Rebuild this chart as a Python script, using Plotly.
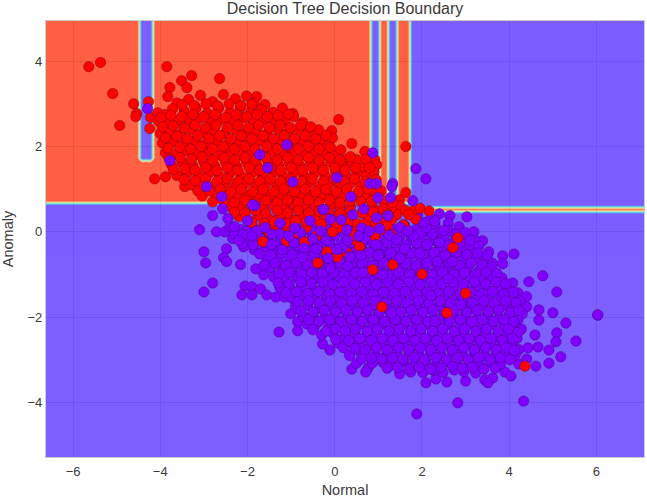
import numpy as np
import plotly.graph_objects as go

# axis limits
x_limits = [-6.62, 7.09]
y_limits = [-5.28, 4.94]
x_ticks = [-6, -4, -2, 0, 2, 4, 6]
y_ticks = [-4, -2, 0, 2, 4]

# regions the tree calls Anomaly: x from, x to, y from, y to
red_regions = [
    (-6.7, -4.47, 0.66, 5.2),
    (-4.47, -4.17, 0.66, 1.67),
    (-4.17, 0.8, 0.66, 5.2),
    (1.05, 1.2, 0.66, 5.2),
    (1.45, 1.75, 0.66, 5.2),
    (1.6, 7.3, 0.48, 0.56),
]
mesh_step = 0.1

purple_points = [
    (-2.8, .38), (-3.1, .05), (-3.0, -.47), (-2.96, -.73), (-2.8, -1.2), (-3.0, -1.41), (-2.71, 0), (-2.52, 0),
    (-2.34, -.16), (-2.48, -.4), (-2.55, -.61), (-2.48, -.7), (-2.16, -.77), (-2.09, -.35), (-1.81, -.87),
    (-1.63, -1.01), (-2.06, -1.27), (-1.9, -1.29), (-1.7, -1.34), (-2.13, -1.48), (-1.9, -1.48), (-1.56, -1.48),
    (-1.35, -1.53), (-1.15, -1.53), (-1.28, -2.35), (-1.01, -1.92), (-.85, -2.11), (-.64, -2.16), (-.85, -2.32),
    (-.28, -2.63), (.07, -2.61), (.41, -2.61), (-.11, -2.77), (.76, -3.2),
    (2.64, .38), (3.03, .35), (3.19, 0), (3.39, -.21), (3.53, -.47), (3.85, -.56), (4.11, -.52), (3.85, -.75),
    (3.83, -1.08), (4.08, -1.2), (4.45, -1.17), (4.77, -1.03), (5.09, -1.41), (4.2, -1.43), (4.4, -1.52),
    (4.4, -1.76), (4.68, -1.83), (5.0, -1.9), (4.68, -2.07), (5.3, -2.14), (6.03, -1.95), (5.09, -2.37),
    (5.53, -2.56), (5.07, -2.58), (4.91, -2.77), (5.18, -2.93), (4.91, -3.08), (4.66, -2.7), (4.59, -2.42),
    (4.43, -2.72), (4.4, -2.98), (4.61, -3.15), (4.22, -3.1), (3.9, -3.29), (4.04, -3.38), (3.62, -3.43),
    (3.44, -3.47), (3.51, -3.54), (3.23, -3.31), (3.0, -3.5), (2.57, -3.52), (2.32, -3.45), (2.09, -3.54),
    (2.82, -4.01), (4.33, -3.97), (1.88, -4.27), (1.49, -3.33), (1.74, -3.29), (.71, -3.29), (.39, -3.22),
    (.5, -3.08), (1.86, 1.48), (2.09, 1.24), (6.03, -1.95),
    (1.9, .42), (2.2, .3), (2.4, .42), (2.0, .18), (2.3, .15), (2.6, .2), (2.85, .12),
    (-2.4, .12), (-2.15, .05), (-1.9, .15), (-1.65, .05), (-1.4, .14), (-1.15, .04), (-.9, .14), (-.65, .05),
    (-.4, .14), (-.15, .05), (.1, .15), (.35, .05), (.6, .14), (.85, .05), (1.1, .15), (1.35, .05), (1.6, .14),
    (1.85, .05), (2.12, .02), (2.36, -.03), (2.62, .02), (2.9, -.04),
    (-2.24, -.16), (-2.0, -.12), (-1.75, -.2), (-1.5, -.1), (-1.25, -.2), (-1.0, -.1), (-.75, -.2), (-.5, -.1),
    (-.25, -.2), (0, -.1), (.25, -.2), (.5, -.1), (.75, -.2), (1.0, -.1), (1.25, -.2), (1.5, -.1), (1.75, -.2),
    (2.0, -.12), (2.25, -.2), (2.5, -.14), (2.75, -.2), (3.0, -.12), (3.22, -.2),
    (-1.85, -.42), (-1.6, -.36), (-1.35, -.44), (-1.1, -.36), (-.85, -.45), (-.6, -.36), (-.35, -.44),
    (-.1, -.36), (.15, -.45), (.4, -.36), (.65, -.44), (.9, -.36), (1.15, -.45), (1.4, -.36), (1.65, -.44),
    (1.9, -.36), (2.15, -.45), (2.4, -.36), (2.65, -.44), (2.9, -.36), (3.15, -.45),
    (-1.55, -.62), (-1.3, -.68), (-1.05, -.6), (-.8, -.68), (-.55, -.6), (-.3, -.68), (-.05, -.6), (.2, -.68),
    (.45, -.6), (.7, -.68), (.95, -.6), (1.2, -.68), (1.45, -.6), (1.7, -.68), (1.95, -.6), (2.2, -.68),
    (2.45, -.6), (2.7, -.68), (2.95, -.6), (3.2, -.66), (3.45, -.62), (3.62, -.74),
    (-1.48, -.84), (-1.2, -.9), (-.95, -.82), (-.7, -.9), (-.45, -.84), (-.2, -.92), (.05, -.84), (.3, -.9),
    (.55, -.84), (.8, -.92), (1.05, -.84), (1.3, -.92), (1.55, -.84), (1.8, -.92), (2.05, -.84), (2.3, -.92),
    (2.55, -.84), (2.8, -.92), (3.05, -.84), (3.3, -.92), (3.55, -.86),
    (-1.4, -1.06), (-1.15, -1.12), (-.88, -1.05), (-.62, -1.13), (-.38, -1.06), (-.12, -1.14), (.12, -1.06),
    (.38, -1.13), (.62, -1.06), (.88, -1.14), (1.12, -1.06), (1.38, -1.13), (1.62, -1.06), (1.88, -1.14),
    (2.12, -1.06), (2.38, -1.13), (2.62, -1.06), (2.88, -1.14), (3.12, -1.06), (3.38, -1.13), (3.62, -1.06),
    (3.84, -1.28),
    (-1.26, -1.3), (-1.02, -1.35), (-.76, -1.28), (-.5, -1.36), (-.26, -1.28), (0, -1.36), (.24, -1.28),
    (.5, -1.36), (.74, -1.28), (1.0, -1.36), (1.24, -1.28), (1.5, -1.36), (1.74, -1.28), (2.0, -1.36),
    (2.24, -1.28), (2.5, -1.36), (2.74, -1.28), (3.0, -1.36), (3.24, -1.28), (3.5, -1.36), (3.74, -1.3),
    (3.98, -1.38),
    (-.98, -1.56), (-.72, -1.5), (-.46, -1.58), (-.2, -1.5), (.04, -1.58), (.3, -1.5), (.54, -1.58), (.8, -1.5),
    (1.04, -1.58), (1.3, -1.5), (1.54, -1.58), (1.8, -1.5), (2.04, -1.58), (2.3, -1.5), (2.54, -1.58),
    (2.8, -1.5), (3.04, -1.58), (3.3, -1.5), (3.54, -1.58), (3.8, -1.52), (4.04, -1.6), (4.24, -1.62),
    (-.9, -1.76), (-.62, -1.72), (-.36, -1.8), (-.1, -1.72), (.14, -1.8), (.4, -1.72), (.64, -1.8), (.9, -1.72),
    (1.14, -1.8), (1.4, -1.72), (1.64, -1.8), (1.9, -1.72), (2.14, -1.8), (2.4, -1.72), (2.64, -1.8),
    (2.9, -1.72), (3.14, -1.8), (3.4, -1.72), (3.64, -1.8), (3.9, -1.72), (4.14, -1.8), (4.3, -1.92),
    (-.72, -1.98), (-.5, -1.94), (-.24, -2.02), (0, -1.94), (.26, -2.02), (.5, -1.94), (.76, -2.02), (1.0, -1.94),
    (1.26, -2.02), (1.5, -1.94), (1.76, -2.02), (2.0, -1.94), (2.26, -2.02), (2.5, -1.94), (2.76, -2.02),
    (3.0, -1.94), (3.26, -2.02), (3.5, -1.94), (3.76, -2.02), (4.0, -1.96), (4.2, -2.06),
    (-.44, -2.18), (-.14, -2.24), (.1, -2.16), (.36, -2.24), (.6, -2.16), (.86, -2.24), (1.1, -2.16), (1.36, -2.24),
    (1.6, -2.16), (1.86, -2.24), (2.1, -2.16), (2.36, -2.24), (2.6, -2.16), (2.86, -2.24), (3.1, -2.16),
    (3.36, -2.24), (3.6, -2.16), (3.86, -2.24), (4.1, -2.18), (4.28, -2.28),
    (-.3, -2.42), (-.04, -2.38), (.22, -2.46), (.46, -2.38), (.72, -2.46), (.96, -2.38), (1.22, -2.46),
    (1.46, -2.38), (1.72, -2.46), (1.96, -2.38), (2.22, -2.46), (2.46, -2.38), (2.72, -2.46), (2.96, -2.38),
    (3.22, -2.46), (3.46, -2.38), (3.72, -2.46), (3.96, -2.4), (4.18, -2.5),
    (.2, -2.72), (.58, -2.6), (.82, -2.68), (1.08, -2.6), (1.32, -2.68), (1.58, -2.6), (1.82, -2.68), (2.08, -2.6),
    (2.32, -2.68), (2.58, -2.6), (2.82, -2.68), (3.08, -2.6), (3.32, -2.68), (3.58, -2.6), (3.82, -2.68),
    (4.06, -2.62), (4.22, -2.76),
    (.34, -2.9), (.6, -2.84), (.94, -2.9), (1.2, -2.82), (1.44, -2.9), (1.7, -2.82), (1.94, -2.9), (2.2, -2.82),
    (2.44, -2.9), (2.7, -2.82), (2.94, -2.9), (3.2, -2.82), (3.44, -2.9), (3.7, -2.84), (3.94, -2.92), (4.14, -2.88),
    (.86, -3.08), (1.1, -3.06), (1.32, -3.12), (1.58, -3.04), (1.82, -3.12), (2.08, -3.04), (2.32, -3.12),
    (2.58, -3.04), (2.82, -3.12), (3.08, -3.04), (3.32, -3.12), (3.58, -3.06), (3.8, -3.1),
    (2.02, -3.3), (2.26, -3.24), (2.48, -3.3), (2.74, -3.24), (2.96, -3.28),
]

# second pass over the purple cloud, the gaps between the points above
purple_fill = [
    (-2.3, -.04), (-2.03, .02), (-1.77, -.05), (-1.52, .01), (-1.27, -.03), (-1.0, .02), (-.78, -.06), (-.52, .01),
    (-.27, -.04), (-.01, .03), (.23, -.05), (.48, .01), (.74, -.03), (.98, .02), (1.23, -.06), (1.47, .01),
    (1.73, -.04), (1.98, -.01), (2.24, -.06), (2.5, .03), (2.76, -.06), (3.0, -.02),
    (-2.12, -.28), (-1.87, -.3), (-1.62, -.25), (-1.37, -.31), (-1.12, -.26), (-.87, -.32), (-.62, -.25),
    (-.37, -.3), (-.12, -.26), (.13, -.31), (.38, -.25), (.62, -.3), (.88, -.26), (1.12, -.31), (1.37, -.25),
    (1.63, -.31), (1.88, -.26), (2.12, -.3), (2.38, -.25), (2.62, -.31), (2.88, -.26), (3.1, -.31), (3.3, -.34),
    (-1.72, -.52), (-1.47, -.55), (-1.22, -.5), (-.97, -.54), (-.72, -.49), (-.47, -.55), (-.22, -.5), (.03, -.54),
    (.28, -.5), (.53, -.55), (.78, -.49), (1.03, -.54), (1.28, -.5), (1.53, -.55), (1.78, -.5), (2.03, -.54),
    (2.28, -.49), (2.53, -.55), (2.78, -.5), (3.03, -.54), (3.28, -.5), (3.5, -.55),
    (-1.62, -.78), (-1.37, -.74), (-1.12, -.79), (-.87, -.73), (-.62, -.78), (-.37, -.74), (-.12, -.79), (.12, -.73),
    (.38, -.78), (.63, -.74), (.87, -.79), (1.12, -.73), (1.38, -.78), (1.63, -.74), (1.87, -.79), (2.12, -.73),
    (2.38, -.78), (2.63, -.74), (2.87, -.79), (3.12, -.73), (3.38, -.78), (3.6, -.82),
    (-1.28, -.99), (-1.03, -.96), (-.77, -1.0), (-.53, -.95), (-.28, -1.0), (-.03, -.96), (.22, -1.0), (.47, -.95),
    (.72, -1.0), (.97, -.96), (1.22, -1.0), (1.47, -.95), (1.72, -1.0), (1.97, -.96), (2.22, -1.0), (2.47, -.95),
    (2.72, -1.0), (2.97, -.96), (3.22, -1.0), (3.47, -.95), (3.72, -.98),
    (-1.3, -1.2), (-1.04, -1.23), (-.78, -1.18), (-.53, -1.22), (-.28, -1.18), (-.04, -1.24), (.2, -1.18),
    (.46, -1.23), (.7, -1.18), (.96, -1.24), (1.2, -1.18), (1.46, -1.23), (1.7, -1.18), (1.96, -1.24),
    (2.2, -1.18), (2.46, -1.23), (2.7, -1.18), (2.96, -1.24), (3.2, -1.18), (3.46, -1.23), (3.7, -1.18), (3.92, -1.22),
    (-1.12, -1.43), (-.88, -1.4), (-.62, -1.45), (-.38, -1.4), (-.12, -1.46), (.12, -1.41), (.38, -1.45),
    (.62, -1.4), (.88, -1.46), (1.12, -1.41), (1.38, -1.45), (1.62, -1.4), (1.88, -1.46), (2.12, -1.41),
    (2.38, -1.45), (2.62, -1.4), (2.88, -1.46), (3.12, -1.41), (3.38, -1.45), (3.62, -1.4), (3.88, -1.46), (4.1, -1.42),
    (-.86, -1.64), (-.6, -1.62), (-.35, -1.67), (-.1, -1.62), (.16, -1.67), (.4, -1.62), (.66, -1.67), (.92, -1.62),
    (1.16, -1.67), (1.42, -1.62), (1.66, -1.67), (1.92, -1.62), (2.16, -1.67), (2.42, -1.62), (2.66, -1.67),
    (2.92, -1.62), (3.16, -1.67), (3.42, -1.62), (3.66, -1.67), (3.92, -1.62), (4.16, -1.67),
    (-.78, -1.86), (-.5, -1.88), (-.24, -1.84), (.02, -1.89), (.26, -1.84), (.52, -1.88), (.76, -1.84), (1.02, -1.89),
    (1.26, -1.84), (1.52, -1.88), (1.76, -1.84), (2.02, -1.89), (2.26, -1.84), (2.52, -1.88), (2.76, -1.84),
    (3.02, -1.89), (3.26, -1.84), (3.52, -1.88), (3.76, -1.84), (4.02, -1.89), (4.22, -1.84),
    (-.6, -2.06), (-.36, -2.1), (-.12, -2.06), (.14, -2.11), (.38, -2.06), (.64, -2.1), (.88, -2.06), (1.14, -2.11),
    (1.38, -2.06), (1.64, -2.1), (1.88, -2.06), (2.14, -2.11), (2.38, -2.06), (2.64, -2.1), (2.88, -2.06),
    (3.14, -2.11), (3.38, -2.06), (3.64, -2.1), (3.88, -2.06), (4.1, -2.11),
    (-.5, -2.3), (-.2, -2.33), (.02, -2.28), (.24, -2.33), (.48, -2.28), (.74, -2.33), (.98, -2.28), (1.24, -2.33),
    (1.48, -2.28), (1.74, -2.33), (1.98, -2.28), (2.24, -2.33), (2.48, -2.28), (2.74, -2.33), (2.98, -2.28),
    (3.24, -2.33), (3.48, -2.28), (3.74, -2.33), (3.98, -2.28), (4.2, -2.36),
    (.02, -2.52), (.32, -2.55), (.58, -2.5), (.84, -2.55), (1.08, -2.5), (1.34, -2.55), (1.58, -2.5), (1.84, -2.55),
    (2.08, -2.5), (2.34, -2.55), (2.58, -2.5), (2.84, -2.55), (3.08, -2.5), (3.34, -2.55), (3.58, -2.5),
    (3.84, -2.55), (4.08, -2.5),
    (.46, -2.74), (.7, -2.78), (.96, -2.72), (1.2, -2.77), (1.46, -2.72), (1.7, -2.77), (1.96, -2.72), (2.2, -2.77),
    (2.46, -2.72), (2.7, -2.77), (2.96, -2.72), (3.2, -2.77), (3.46, -2.72), (3.7, -2.77), (3.94, -2.72), (4.12, -2.78),
    (.62, -2.98), (.84, -2.96), (1.08, -2.98), (1.32, -2.95), (1.56, -3.0), (1.82, -2.95), (2.06, -3.0), (2.32, -2.95),
    (2.56, -3.0), (2.82, -2.95), (3.06, -3.0), (3.3, -2.95), (3.56, -3.0), (3.8, -2.95), (4.02, -3.0),
    (1.2, -3.2), (1.44, -3.18), (1.7, -3.22), (1.94, -3.18), (2.2, -3.22), (2.44, -3.18), (2.7, -3.16), (2.92, -3.2),
    (3.16, -3.18), (3.42, -3.22), (3.68, -3.2),
]

red_points = [
    (-5.64, 3.87), (-5.37, 3.97), (-5.09, 3.24), (-4.93, 2.49), (-4.61, 3.0), (-4.54, 2.77), (-4.56, 2.7),
    (-4.27, 3.05), (-4.22, 2.68), (-4.06, 2.79), (-4.24, 2.42), (-3.85, 3.87), (-3.28, 3.66), (-2.64, 3.59),
    (-3.51, 3.54), (-3.78, 3.38), (-3.39, 3.38), (-3.83, 3.17), (-4.13, 1.24), (-3.88, 1.29), (-3.44, 1.06),
    (-3.14, .96), (-1.79, 3.17), (.09, 2.63), (.39, 2.07), (1.63, 2.0), (-.96, 2.77), (-.73, 2.56),
    (-3.62, 3.02), (-3.35, 3.1), (-3.08, 3.2), (-2.8, 3.05), (-2.55, 3.22), (-2.28, 3.12), (-2.02, 3.18),
    (-1.85, 3.02), (-1.6, 2.98),
    (-3.9, 2.75), (-3.72, 2.88), (-3.45, 2.82), (-3.18, 2.9), (-2.92, 2.78), (-2.66, 2.9), (-2.4, 2.8),
    (-2.16, 2.92), (-1.92, 2.82), (-1.68, 2.86), (-1.42, 2.8), (-1.2, 2.9),
    (-4.05, 2.6), (-3.85, 2.52), (-3.6, 2.62), (-3.34, 2.56), (-3.1, 2.66), (-2.85, 2.55), (-2.6, 2.64),
    (-2.35, 2.56), (-2.1, 2.67), (-1.86, 2.58), (-1.62, 2.64), (-1.38, 2.56), (-1.14, 2.62), (-.94, 2.7),
    (-4.0, 2.3), (-3.78, 2.36), (-3.52, 2.3), (-3.28, 2.4), (-3.02, 2.32), (-2.78, 2.38), (-2.52, 2.3),
    (-2.28, 2.4), (-2.04, 2.32), (-1.8, 2.38), (-1.55, 2.3), (-1.3, 2.4), (-1.06, 2.33), (-.82, 2.4),
    (-.6, 2.35), (-.37, 2.39), (-.07, 2.37),
    (-3.95, 2.08), (-3.7, 2.12), (-3.45, 2.05), (-3.2, 2.14), (-2.96, 2.06), (-2.7, 2.14), (-2.46, 2.05),
    (-2.22, 2.13), (-1.98, 2.06), (-1.72, 2.14), (-1.48, 2.06), (-1.24, 2.14), (-1.0, 2.06), (-.76, 2.14),
    (-.52, 2.06), (-.28, 2.15), (-.05, 2.2), (-.16, 2.0),
    (-3.88, 1.85), (-3.62, 1.82), (-3.38, 1.9), (-3.12, 1.82), (-2.88, 1.88), (-2.62, 1.8), (-2.38, 1.88),
    (-2.14, 1.8), (-1.9, 1.88), (-1.64, 1.8), (-1.4, 1.88), (-1.16, 1.8), (-.92, 1.88), (-.68, 1.8),
    (-.44, 1.88), (-.2, 1.8), (.06, 1.8), (.28, 1.7),
    (-3.75, 1.58), (-3.5, 1.62), (-3.26, 1.55), (-3.0, 1.63), (-2.76, 1.55), (-2.5, 1.62), (-2.26, 1.54),
    (-2.02, 1.62), (-1.78, 1.55), (-1.52, 1.64), (-1.28, 1.55), (-1.04, 1.62), (-.8, 1.54), (-.56, 1.62),
    (-.32, 1.55), (-.08, 1.62), (.16, 1.54), (.4, 1.62), (.69, 1.88), (.92, 1.69), (.96, 1.57), (.5, 1.69), (.66, 1.5),
    (-3.62, 1.32), (-3.38, 1.38), (-3.12, 1.3), (-2.88, 1.38), (-2.64, 1.3), (-2.4, 1.38), (-2.14, 1.3),
    (-1.9, 1.38), (-1.66, 1.3), (-1.42, 1.38), (-1.18, 1.3), (-.94, 1.38), (-.7, 1.3), (-.46, 1.38),
    (-.22, 1.3), (.02, 1.4), (.26, 1.3), (.5, 1.38), (.72, 1.3), (.9, 1.4),
    (-3.3, 1.1), (-3.02, 1.12), (-2.78, 1.06), (-2.52, 1.14), (-2.28, 1.06), (-2.04, 1.14), (-1.8, 1.06),
    (-1.56, 1.14), (-1.32, 1.06), (-1.08, 1.14), (-.84, 1.06), (-.6, 1.14), (-.36, 1.06), (-.12, 1.14),
    (.12, 1.06), (.36, 1.14), (.6, 1.06), (.84, .96), (1.06, .96),
    (-3.04, .84), (-2.72, .8), (-2.44, .86), (-2.2, .8), (-1.96, .86), (-1.72, .8), (-1.48, .86), (-1.24, .8),
    (-1.0, .86), (-.76, .8), (-.52, .86), (-.28, .8), (-.04, .86), (.2, .8), (.5, .86), (.7, .8), (1.12, .72),
    (1.48, .75), (1.63, .92), (1.5, .6),
    (-2.4, .6), (-2.14, .55), (-1.9, .62), (-1.64, .55), (-1.4, .62), (-1.16, .55), (-.92, .62), (-.68, .55),
    (-.44, .6), (-.1, .62), (.12, .55), (.36, .6), (.6, .7), (.86, .6), (1.0, .48), (1.12, .54), (1.42, .4),
    (1.79, .49), (2.16, .49), (1.96, .55), (1.62, .5), (1.3, .55), (.75, .4),
    (-2.2, .36), (-2.0, .28), (-1.76, .38), (-1.5, .3), (-1.26, .38), (-1.02, .3), (-.78, .38), (-.45, .3),
    (-.2, .35), (.05, .28), (.2, .38), (.5, .2), (.78, .3), (1.06, .22), (1.3, .28), (1.58, .16), (1.85, .3),
    (-1.66, .08), (-1.38, .12), (-1.1, .14), (-.66, .1), (.1, .1), (.5, .02), (.82, .08), (1.15, .04),
    (-1.65, -.23), (-1.1, -.23), (-.69, -.23), (-.39, -.73), (-.18, -.47), (.05, -.59), (.28, -.49), (.41, -.19),
    (.57, -.35), (.87, -.89), (1.33, -.77), (2.57, -1.9), (2.82, -.14), (2.71, -.37), (1.58, .16),
    (3.0, -1.44), (2.0, -.99), (1.08, -1.76), (4.36, -3.15),
]

# second pass over the red cloud
red_fill = [
    (-3.5, 2.98), (-3.22, 2.96), (-2.95, 3.0), (-2.68, 2.95), (-2.42, 3.0), (-2.15, 2.96), (-1.9, 2.99),
    (-3.98, 2.68), (-3.76, 2.73), (-3.5, 2.7), (-3.26, 2.75), (-3.0, 2.7), (-2.74, 2.75), (-2.5, 2.68),
    (-2.26, 2.74), (-2.02, 2.7), (-1.78, 2.75), (-1.54, 2.7), (-1.3, 2.72), (-1.06, 2.76),
    (-3.95, 2.46), (-3.7, 2.48), (-3.45, 2.44), (-3.2, 2.5), (-2.96, 2.44), (-2.72, 2.5), (-2.46, 2.44),
    (-2.22, 2.5), (-1.98, 2.44), (-1.74, 2.5), (-1.5, 2.44), (-1.26, 2.5), (-1.02, 2.44), (-.78, 2.5), (-.55, 2.46),
    (-3.88, 2.2), (-3.62, 2.24), (-3.38, 2.18), (-3.14, 2.25), (-2.88, 2.18), (-2.64, 2.25), (-2.38, 2.18),
    (-2.14, 2.25), (-1.9, 2.18), (-1.64, 2.25), (-1.4, 2.18), (-1.16, 2.25), (-.92, 2.18), (-.68, 2.25),
    (-.44, 2.18), (-.2, 2.26),
    (-3.82, 1.96), (-3.56, 1.98), (-3.3, 1.94), (-3.06, 1.99), (-2.8, 1.94), (-2.56, 2.0), (-2.3, 1.94),
    (-2.06, 2.0), (-1.82, 1.94), (-1.56, 2.0), (-1.32, 1.94), (-1.08, 2.0), (-.84, 1.94), (-.6, 2.0),
    (-.36, 1.94), (-.1, 1.98), (.14, 1.92),
    (-3.8, 1.72), (-3.54, 1.74), (-3.28, 1.7), (-3.04, 1.75), (-2.8, 1.68), (-2.54, 1.74), (-2.3, 1.68),
    (-2.06, 1.74), (-1.82, 1.68), (-1.58, 1.74), (-1.32, 1.68), (-1.08, 1.74), (-.84, 1.68), (-.6, 1.74),
    (-.36, 1.68), (-.12, 1.74), (.12, 1.68), (.36, 1.76), (.72, 1.7),
    (-3.7, 1.46), (-3.44, 1.48), (-3.2, 1.44), (-2.96, 1.5), (-2.7, 1.44), (-2.46, 1.5), (-2.22, 1.44),
    (-1.96, 1.5), (-1.72, 1.44), (-1.48, 1.5), (-1.24, 1.44), (-1.0, 1.5), (-.74, 1.44), (-.5, 1.5),
    (-.26, 1.44), (0, 1.5), (.24, 1.44), (.48, 1.5), (.8, 1.5),
    (-3.45, 1.22), (-3.2, 1.2), (-2.96, 1.24), (-2.7, 1.18), (-2.46, 1.24), (-2.22, 1.18), (-1.96, 1.24),
    (-1.72, 1.18), (-1.48, 1.24), (-1.24, 1.18), (-1.0, 1.24), (-.76, 1.18), (-.52, 1.24), (-.26, 1.18),
    (-.02, 1.24), (.22, 1.18), (.46, 1.24), (.7, 1.18), (.95, 1.22),
    (-2.88, .96), (-2.62, 1.0), (-2.38, .94), (-2.14, 1.0), (-1.88, .94), (-1.64, 1.0), (-1.4, .94), (-1.16, 1.0),
    (-.92, .94), (-.68, 1.0), (-.44, .94), (-.2, 1.0), (.04, .94), (.28, 1.0), (.54, .94), (.76, 1.0),
    (-2.8, .7), (-2.56, .72), (-2.3, .68), (-2.06, .74), (-1.82, .68), (-1.58, .74), (-1.32, .68), (-1.08, .74),
    (-.84, .68), (-.6, .74), (-.36, .68), (-.12, .74), (.12, .68), (.36, .72), (.84, .72), (1.32, .68),
    (-2.3, .46), (-2.06, .44), (-1.82, .5), (-1.58, .44), (-1.32, .5), (-1.08, .44), (-.84, .5), (-.6, .44),
    (-.36, .48), (-.12, .44), (.12, .42), (.36, .48), (.62, .44), (.88, .46), (1.2, .42), (1.7, .4),
    (-1.9, .22), (-1.62, .2), (-1.38, .24), (-1.14, .2), (-.9, .26), (-.66, .24), (-.3, .18), (.02, .2),
    (.3, .22), (.68, .18), (.95, .2), (1.2, .14),
    (-1.5, -.02), (-.95, -.08), (-.42, -.1), (-.05, 0), (.45, -.08), (.92, -.1), (1.28, -.06),
]

# purple points that sit on top of the red ones
purple_top = [
    (-1.1, 2.04), (.87, 1.85), (.05, 1.27), (-.96, 1.17), (.8, 1.13), (.96, 1.13), (1.33, 1.13), (1.31, 1.06),
    (.37, .82), (.99, .8), (1.28, .8), (1.79, .73), (-.28, .52), (.67, .54), (.41, .4), (.96, .33), (1.22, .38),
    (-.57, .26), (.62, .09), (1.03, .07), (.28, .05), (-.89, .07), (-.32, .02), (-.78, -.02),
    (-2.94, 1.06), (-2.59, .82), (-1.83, .61), (-2.57, .54), (-2.45, .31), (-2.0, .26), (-1.79, .02),
    (-2.11, -.07), (-1.26, -.05), (-1.44, -.05), (-.92, .09), (-.25, .52), (-.5, -.16), (-.94, -.26),
    (-.41, -.4), (.18, -.38), (.05, -.42), (-4.29, 2.89), (-3.78, 1.67), (-1.72, 1.81), (-1.54, 1.5),
    (-1.88, .63), (-2.3, .12), (-2.2, -.2), (-1.9, -.1), (-1.45, -.3), (-1.2, -.42), (-.7, -.38), (-.2, -.2),
    (.3, -.2), (.7, -.15), (1.2, -.25), (1.6, -.4), (.6, -.55), (1.0, -.55), (-.75, -.6), (-.1, -.85),
    (.3, -.8), (.65, -.95), (1.1, -1.0), (1.5, -.62), (1.8, -.1), (2.1, .1), (2.4, -.25), (1.95, -.5),
    (2.35, -.7), (2.7, -.7), (3.1, -.2), (2.6, -1.1), (2.2, -1.5), (2.9, -1.7), (2.3, -2.1), (1.3, -1.9),
    (1.5, .1), (1.68, .02), (2.05, .22), (1.25, -.08), (.95, -.3), (.35, -.58), (-.15, -.62), (-1.05, -.1),
    (-1.6, .1), (-1.25, .2), (.15, .28), (.8, .02), (-.1, .3), (.55, -.1), (1.42, -.18), (2.3, .25),
]

xs = np.arange(x_limits[0], 7.3, mesh_step)
ys = np.arange(y_limits[0], 5.2, mesh_step)
z = np.zeros((len(ys), len(xs)))
for x0, x1, y0, y1 in red_regions:
    z[np.ix_((ys >= y0) & (ys < y1), (xs >= x0) & (xs < x1))] = 1

boundary_colors = [[0, "#5c37ff"], [0.25, "#2fa5f5"], [0.5, "#7cffb0"], [0.75, "#ffbd6b"], [1, "#ff3815"]]

fig = go.Figure()
fig.add_trace(go.Contour(x=xs, y=ys, z=z, colorscale=boundary_colors, zmin=0, zmax=1, opacity=0.8,
                         contours=dict(start=0, end=1, size=0.1, coloring="fill"),
                         line_width=0, showscale=False, hoverinfo="skip"))


def add_points(points, color):
    fig.add_trace(go.Scatter(x=[p[0] for p in points], y=[p[1] for p in points], mode="markers",
                             marker=dict(size=10.5, color=color, line=dict(color="rgba(40,0,40,0.5)", width=0.6)),
                             showlegend=False))


add_points(purple_points + purple_fill, "#8000ff")
add_points(red_points + red_fill, "#ff0000")
add_points(purple_top, "#8000ff")

font_name = "Liberation Sans"
fig.update_layout(title=dict(text="Decision Tree Decision Boundary", x=345 / 647, xanchor="center",
                             y=1 - 8 / 498, yanchor="middle", font=dict(family=font_name, size=16, color="#3a3a3a")),
                  width=647, height=498, margin=dict(l=46, r=3, t=21, b=41), autosize=False,
                  paper_bgcolor="white", plot_bgcolor="white", font=dict(family=font_name, size=13, color="#3a3a3a"),
                  showlegend=False)
axis_style = dict(showgrid=True, gridcolor="#c4c4c4", gridwidth=1, zeroline=False, showline=True, mirror=True,
                  linecolor="#cccccc", linewidth=1.25)
fig.update_xaxes(range=x_limits, tickvals=x_ticks, ticks="outside", ticklen=2, tickcolor="rgba(0,0,0,0)",
                 title=dict(text="Normal", standoff=7, font=dict(size=14.5)), **axis_style)
fig.update_yaxes(range=y_limits, tickvals=y_ticks, ticks="",
                 title=dict(text="Anomaly", standoff=10, font=dict(size=14.5)), **axis_style)

fig.write_html("out.html", config={"displayModeBar": False}, post_script="document.body.style.margin = '0';")
